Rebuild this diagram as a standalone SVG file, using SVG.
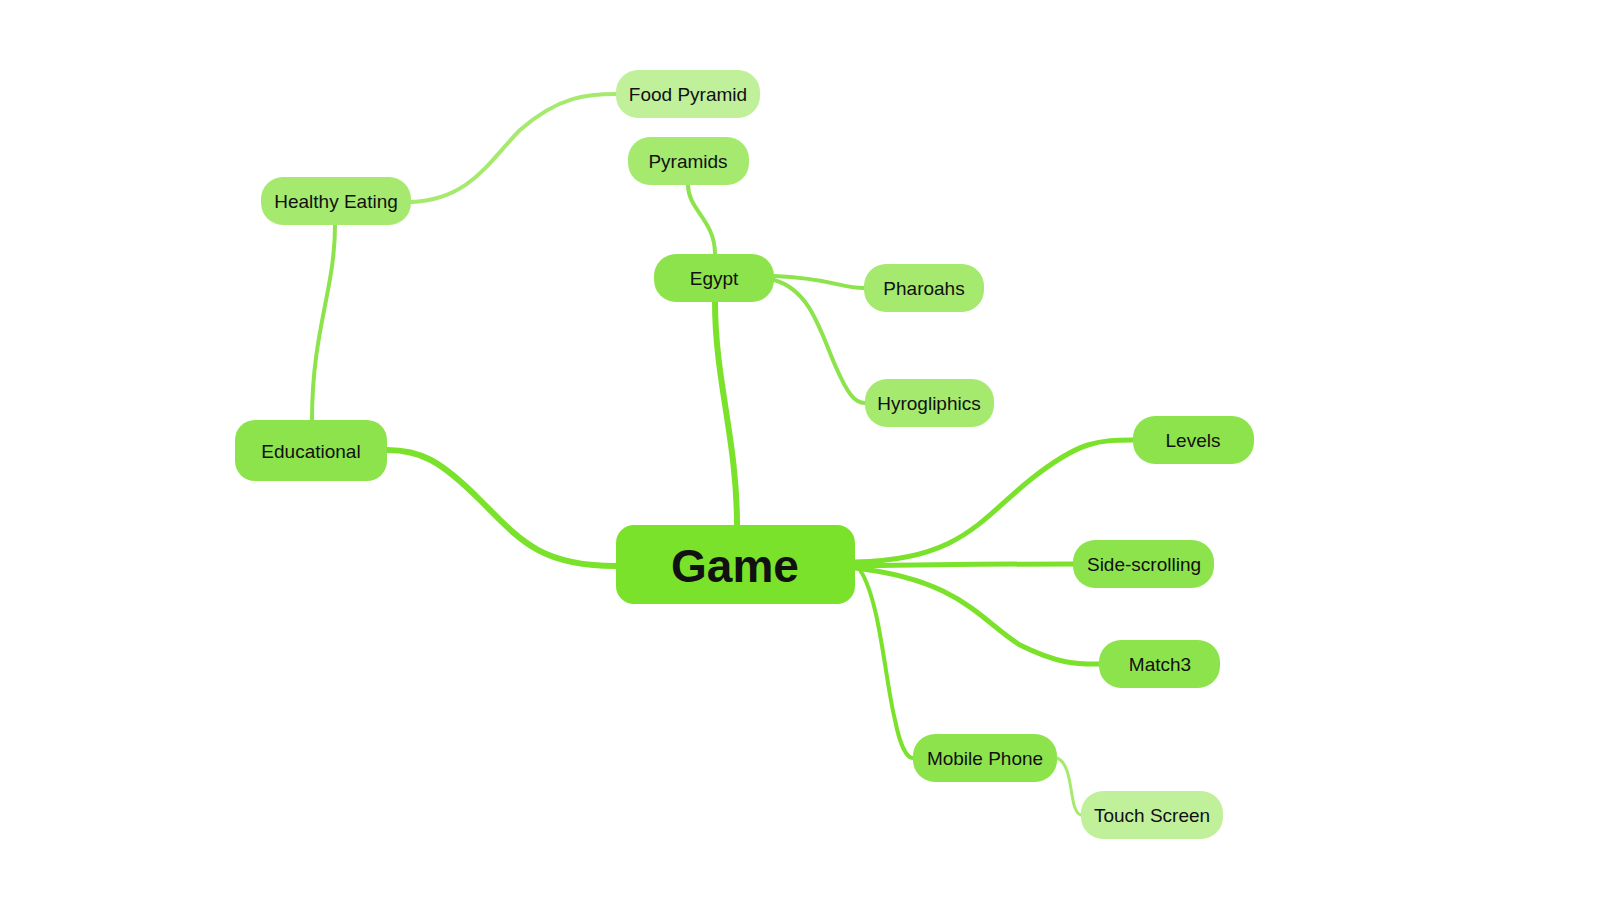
<svg xmlns="http://www.w3.org/2000/svg" width="1600" height="900" viewBox="0 0 1600 900">
<style>
text{font-family:"Liberation Sans",Arial,sans-serif;font-size:19px;fill:#111;text-anchor:middle;dominant-baseline:central}
.c path{fill:none;stroke-linecap:round}
.l1{fill:#8de34c}.l2{fill:#a5ea6f}.l3{fill:#c0f09a}
</style>
<rect width="1600" height="900" fill="#fff"/>
<g class="c">
<path d="M616,566 C540,566 520,540 480,500 C440,460 420,450 387,450" stroke="#7ae22a" stroke-width="6"/>
<path d="M737,525 C737,440 715,380 715,302" stroke="#7ae22a" stroke-width="6"/>
<path d="M855,562 C960,560 980,520 1030,480 C1080,440 1100,440 1133,440" stroke="#7ae22a" stroke-width="5"/>
<path d="M855,566 C960,564 1000,564 1073,564" stroke="#7ae22a" stroke-width="5"/>
<path d="M855,568 C960,580 980,620 1020,645 C1060,665 1080,664 1099,664" stroke="#7ae22a" stroke-width="5"/>
<path d="M860,570 C880,600 885,680 895,720 C902,755 910,758 913,758" stroke="#7ae22a" stroke-width="4"/>
<path d="M312,420 C312,330 335,290 335,225" stroke="#8de34c" stroke-width="4"/>
<path d="M411,202 C470,200 490,160 520,130 C560,95 590,94 616,94" stroke="#a5ea6f" stroke-width="4"/>
<path d="M715,254 C715,220 688,210 688,185" stroke="#8de34c" stroke-width="4"/>
<path d="M774,276 C830,278 840,288 864,288" stroke="#8de34c" stroke-width="4"/>
<path d="M774,280 C810,290 820,330 835,365 C848,395 855,403 865,403" stroke="#8de34c" stroke-width="4"/>
<path d="M1057,758 C1075,765 1068,812 1081,815" stroke="#a5ea6f" stroke-width="3"/>
</g>
<g id="game"><rect x="616" y="525" width="239" height="79" rx="18" fill="#7ae22a"/><text x="735" y="566" style="font-size:46px;font-weight:bold">Game</text></g>
<g id="educational"><rect class="l1" x="235" y="420" width="152" height="61" rx="20"/><text x="311" y="451">Educational</text></g>
<g id="egypt"><rect class="l1" x="654" y="254" width="120" height="48" rx="22"/><text x="714" y="278">Egypt</text></g>
<g id="healthy"><rect class="l2" x="261" y="177" width="150" height="48" rx="22"/><text x="336" y="201">Healthy Eating</text></g>
<g id="food"><rect class="l3" x="616" y="70" width="144" height="48" rx="22"/><text x="688" y="94">Food Pyramid</text></g>
<g id="pyramids"><rect class="l2" x="628" y="137" width="121" height="48" rx="22"/><text x="688" y="161">Pyramids</text></g>
<g id="pharoahs"><rect class="l2" x="864" y="264" width="120" height="48" rx="22"/><text x="924" y="288">Pharoahs</text></g>
<g id="hyro"><rect class="l2" x="865" y="379" width="129" height="48" rx="22"/><text x="929" y="403">Hyrogliphics</text></g>
<g id="levels"><rect class="l1" x="1133" y="416" width="121" height="48" rx="22"/><text x="1193" y="440">Levels</text></g>
<g id="side"><rect class="l1" x="1073" y="540" width="141" height="48" rx="22"/><text x="1144" y="564">Side-scrolling</text></g>
<g id="match"><rect class="l1" x="1099" y="640" width="121" height="48" rx="22"/><text x="1160" y="664">Match3</text></g>
<g id="mobile"><rect class="l1" x="913" y="734" width="144" height="48" rx="22"/><text x="985" y="758">Mobile Phone</text></g>
<g id="touch"><rect class="l3" x="1081" y="791" width="142" height="48" rx="22"/><text x="1152" y="815">Touch Screen</text></g>
</svg>
